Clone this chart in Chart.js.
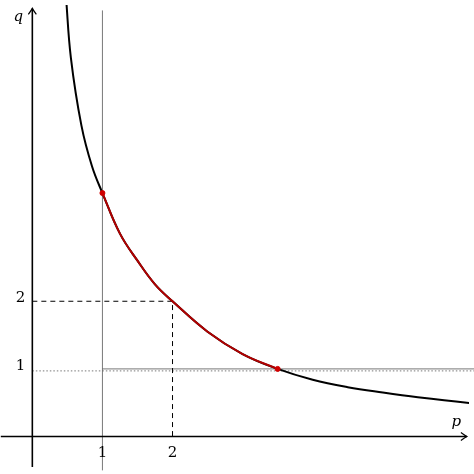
<!DOCTYPE html>
<html><head><meta charset="utf-8">
<script src="https://cdn.jsdelivr.net/npm/chart.js@4"></script>
<style>html,body{margin:0;background:#fff}#wrap{width:474px;height:474px}</style>
</head><body><div id="wrap"><canvas id="c"></canvas></div>
<script>
// curve readings (p, q)
const curveP = [0.48, 0.55, 0.7, 0.85, 1, 1.25, 1.5, 1.75, 2, 2.5, 3, 3.5, 4, 4.5, 5, 5.5, 6.2, 6.4];
const curveQ = [6.5, 5.6, 4.6, 4.0, 3.6, 3.0, 2.6, 2.25, 2.0, 1.55, 1.22, 1.0, 0.84, 0.73, 0.65, 0.58, 0.5, 0.49];
const redP = [1, 1.25, 1.5, 1.75, 2, 2.5, 3, 3.5];
const redQ = [3.6, 3.0, 2.6, 2.25, 2.0, 1.55, 1.22, 1.0];
const markP = [1, 3.5];
const markQ = [3.6, 1.0];
const tickVals = [1, 2];

const toPts = (xs, ys) => xs.map((x, i) => ({ x: x, y: ys[i] }));

const decor = {
  id: 'decor',
  beforeDatasetsDraw(chart) {
    const c = chart.ctx, X = chart.scales.x, Y = chart.scales.y;
    const px = v => X.getPixelForValue(v), py = v => Y.getPixelForValue(v);
    c.save();
    c.strokeStyle = '#555'; c.lineWidth = 0.8;
    // vertical line at p=1
    c.beginPath(); c.moveTo(px(1), py(-0.5)); c.lineTo(px(1), py(6.3)); c.stroke();
    // horizontal line at q=1
    c.beginPath(); c.moveTo(px(1), py(1)); c.lineTo(px(6.4), py(1)); c.stroke();
    c.setLineDash([1.5, 2]);
    c.beginPath(); c.moveTo(px(0), py(1) + 2); c.lineTo(px(6.4), py(1) + 2); c.stroke();
    // dashed guides at (2,2)
    c.strokeStyle = '#000'; c.lineWidth = 1; c.setLineDash([5, 4]);
    c.beginPath(); c.moveTo(px(0), py(2)); c.lineTo(px(2), py(2)); c.lineTo(px(2), py(0)); c.stroke();
    c.setLineDash([]);
    // axes
    c.lineWidth = 1.6;
    c.beginPath(); c.moveTo(px(-0.45), py(0)); c.lineTo(px(6.2), py(0)); c.stroke();
    c.beginPath(); c.moveTo(px(0), py(-0.45)); c.lineTo(px(0), py(6.33)); c.stroke();
    // arrow heads
    c.lineWidth = 1.2;
    const ax = px(6.2), ay = py(0);
    c.beginPath(); c.moveTo(ax - 6, ay - 4); c.quadraticCurveTo(ax - 2, ay - 1, ax, ay); c.quadraticCurveTo(ax - 2, ay + 1, ax - 6, ay + 4); c.stroke();
    const bx = px(0), by = py(6.33);
    c.beginPath(); c.moveTo(bx - 4, by + 6); c.quadraticCurveTo(bx - 1, by + 2, bx, by); c.quadraticCurveTo(bx + 1, by + 2, bx + 4, by + 6); c.stroke();
    // labels
    c.fillStyle = '#000';
    c.font = '15px "DejaVu Serif", "Liberation Serif", serif';
    c.textAlign = 'center'; c.textBaseline = 'top';
    tickVals.forEach(v => c.fillText(String(v), px(v), py(0) + 9));
    c.textAlign = 'right'; c.textBaseline = 'middle';
    tickVals.forEach(v => c.fillText(String(v), px(0) - 7, py(v) - 3));
    c.font = 'italic 15px "DejaVu Serif", "Liberation Serif", serif';
    c.textAlign = 'center';
    c.fillText('p', px(6.05), py(0) - 14);
    c.fillText('q', px(-0.2), py(6.2));
    c.restore();
  }
};

new Chart(document.getElementById('c'), {
  type: 'scatter',
  data: {
    datasets: [
      { data: toPts(curveP, curveQ), order: 3, showLine: true, borderColor: '#000', borderWidth: 2, pointRadius: 0, tension: 0.4, fill: false },
      { data: toPts(redP, redQ), order: 2, showLine: true, borderColor: '#b00000', borderWidth: 2, pointRadius: 0, tension: 0.4, fill: false },
      { data: toPts(markP, markQ), order: 1, showLine: false, pointRadius: 2.5, backgroundColor: '#d00000', borderColor: '#d00000' }
    ]
  },
  options: {
    responsive: true, maintainAspectRatio: false, animation: false,
    layout: { padding: 0 },
    plugins: { legend: { display: false }, tooltip: { enabled: false } },
    scales: {
      x: { type: 'linear', min: -0.39, max: 6.23, display: false },
      y: { type: 'linear', min: -0.48, max: 6.38, display: false }
    }
  },
  plugins: [decor]
});
</script></body></html>
